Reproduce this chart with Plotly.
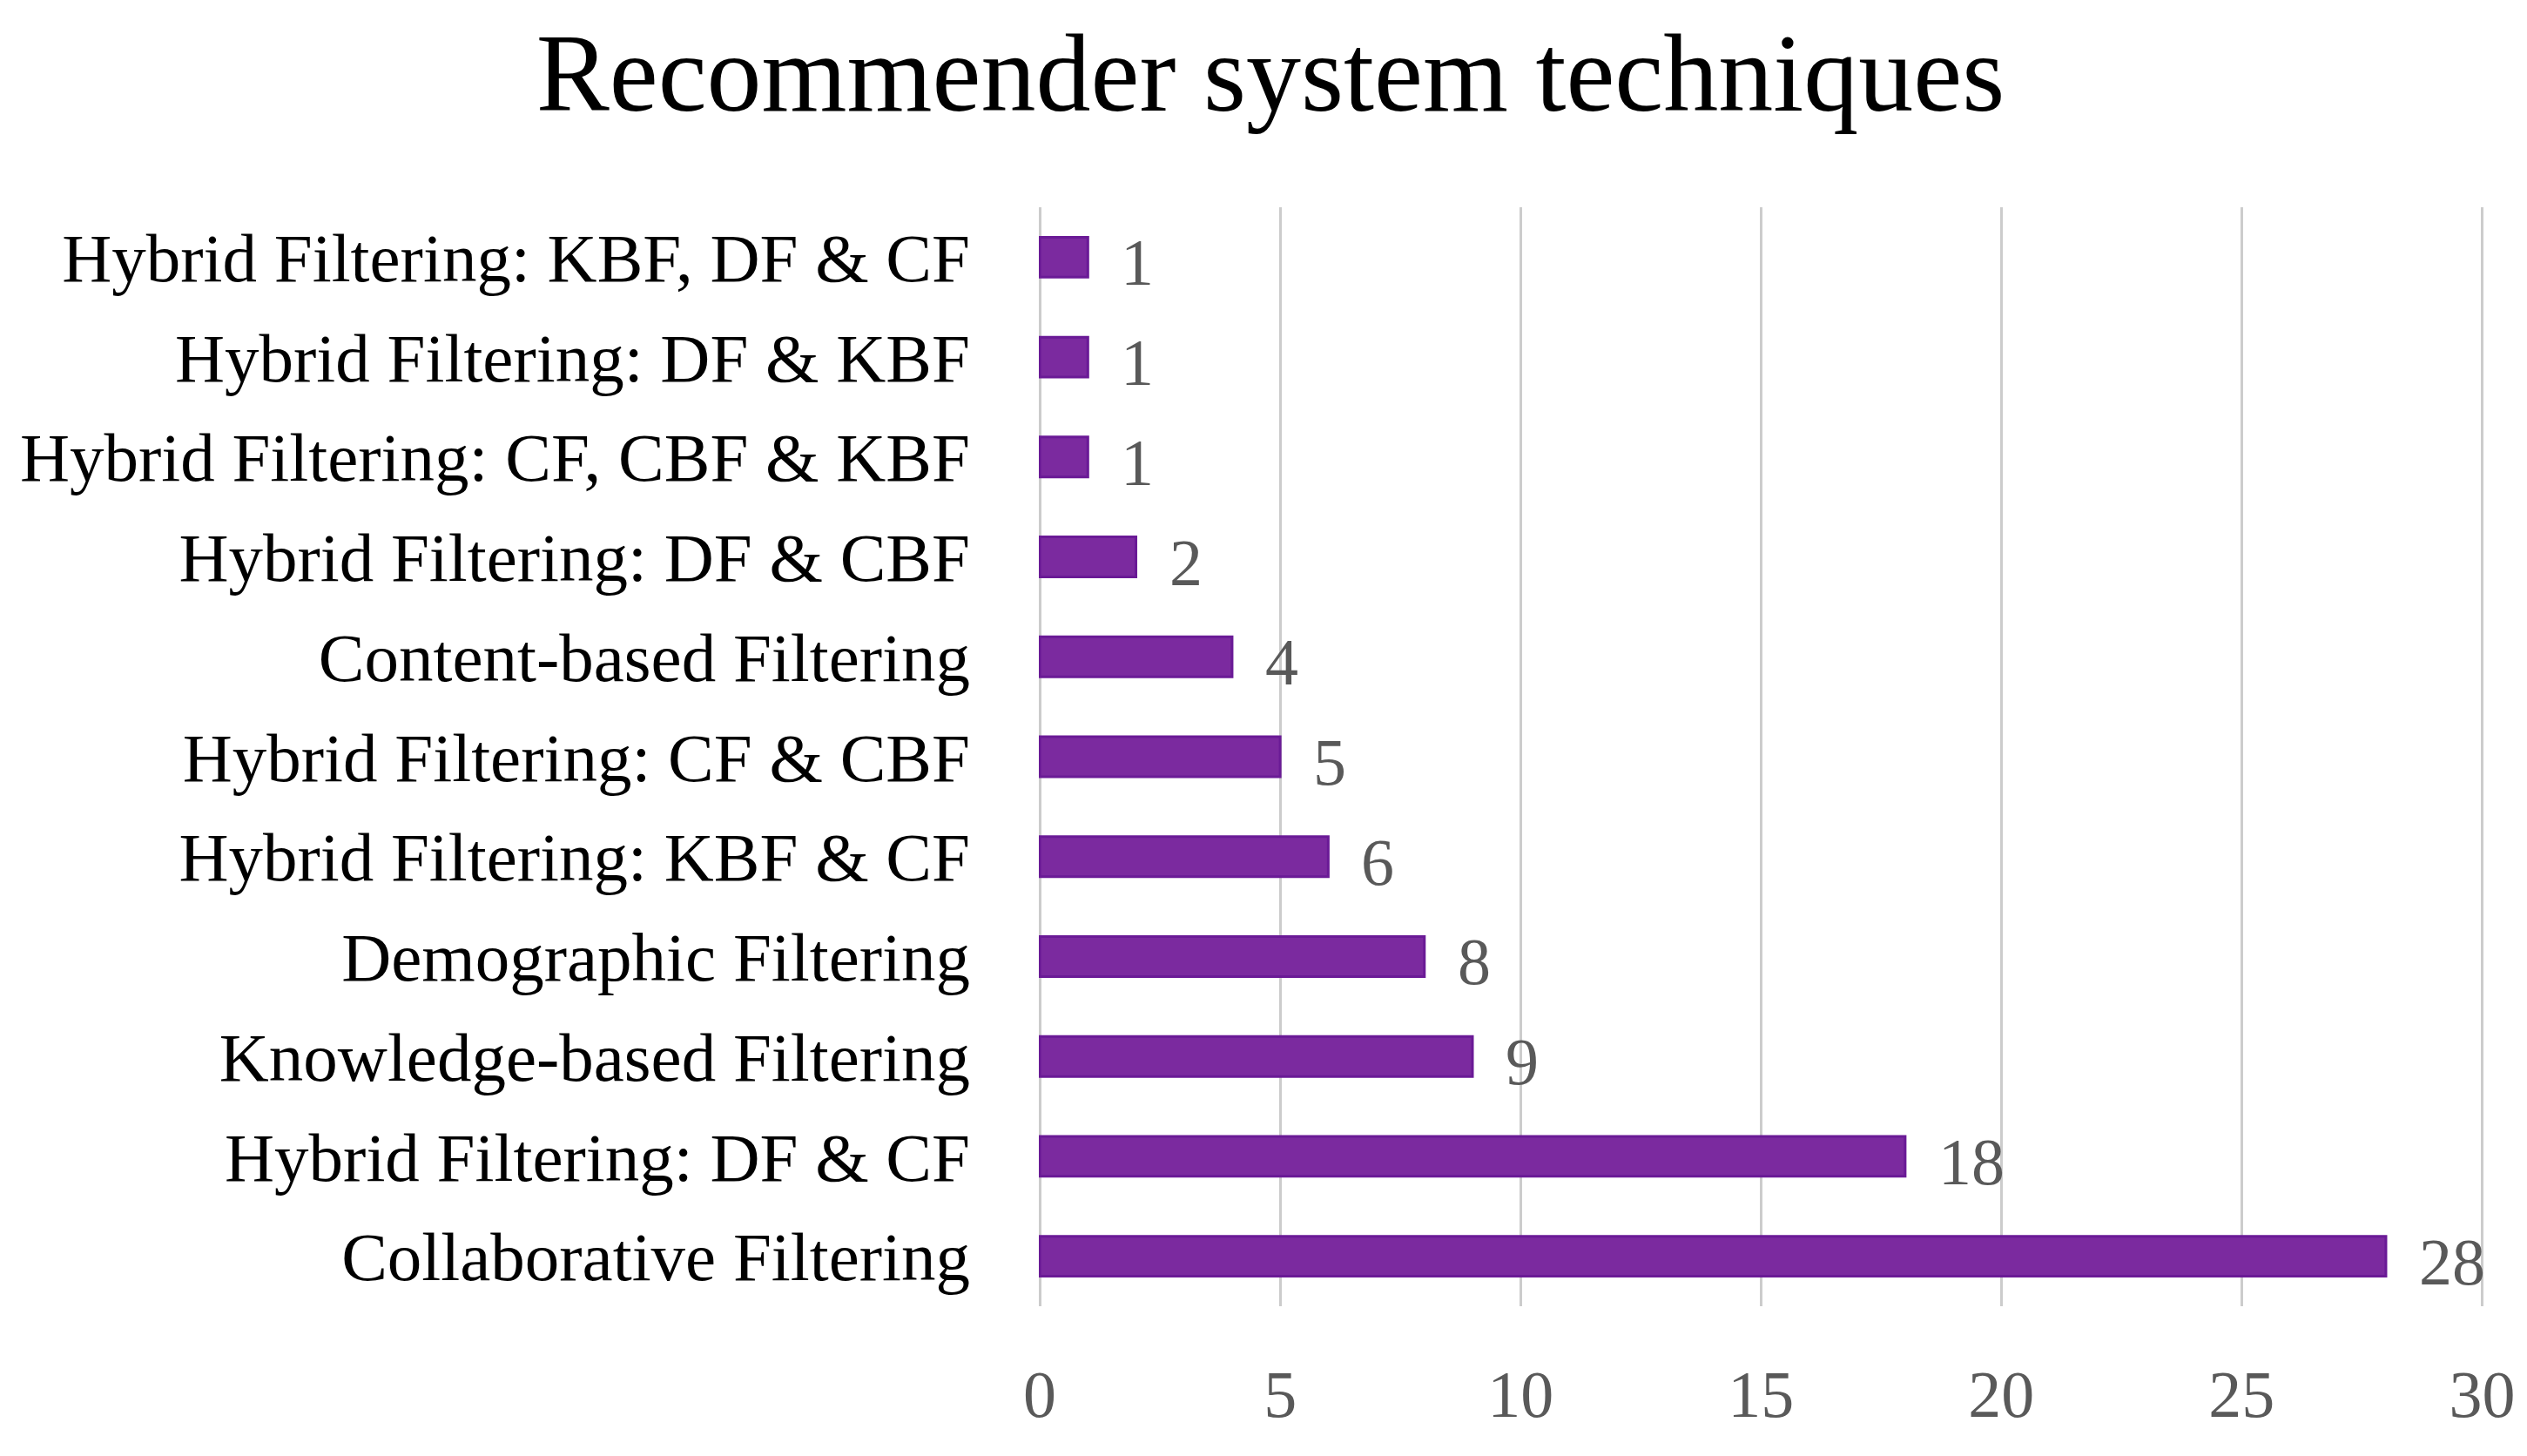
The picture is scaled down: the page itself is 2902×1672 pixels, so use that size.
import plotly.graph_objects as go

# categories listed bottom to top, as plotted
techniques = [
    "Collaborative Filtering",
    "Hybrid Filtering: DF & CF",
    "Knowledge-based Filtering",
    "Demographic Filtering",
    "Hybrid Filtering: KBF & CF",
    "Hybrid Filtering: CF & CBF",
    "Content-based Filtering",
    "Hybrid Filtering: DF & CBF",
    "Hybrid Filtering: CF, CBF & KBF",
    "Hybrid Filtering: DF & KBF",
    "Hybrid Filtering: KBF, DF & CF",
]
counts = [28, 18, 9, 8, 6, 5, 4, 2, 1, 1, 1]
x_ticks = [0, 5, 10, 15, 20, 25, 30]

serif = "Book Antiqua, Palatino Linotype, Palatino, Liberation Serif, serif"

fig = go.Figure()
fig.add_trace(go.Bar(
    x=counts, y=techniques, orientation="h",
    marker=dict(color="#7B2A9F", line=dict(color="#6A1A96", width=3)),
    width=0.4,
))

# value labels to the right of each bar
for t, c in zip(techniques, counts):
    fig.add_annotation(x=c, y=t, text=str(c), showarrow=False,
                       xanchor="left", yanchor="middle", xshift=36, yshift=-6,
                       font=dict(family=serif, size=76, color="#595959"))

fig.update_layout(
    width=2902, height=1672,
    paper_bgcolor="white", plot_bgcolor="white",
    showlegend=False,
    margin=dict(l=1185, r=32, t=230, b=180),
    title=dict(text="Recommender system techniques", x=0.5, xanchor="center",
               y=0.955, yanchor="middle",
               font=dict(family=serif, size=126, color="black")),
    font=dict(family=serif),
)
fig.update_xaxes(range=[-0.02, 30.5], tickvals=x_ticks, showgrid=True,
                 gridcolor="#CCCCCC", gridwidth=3,
                 zeroline=True, zerolinecolor="#CCCCCC", zerolinewidth=3,
                 showline=False, ticks="", ticklabelstandoff=50,
                 tickfont=dict(family=serif, size=76, color="#595959"))
fig.update_yaxes(showgrid=False, zeroline=False, showline=False,
                 ticks="", ticklabelstandoff=78,
                 tickfont=dict(family=serif, size=79, color="black"))

fig.write_html("out.html")
